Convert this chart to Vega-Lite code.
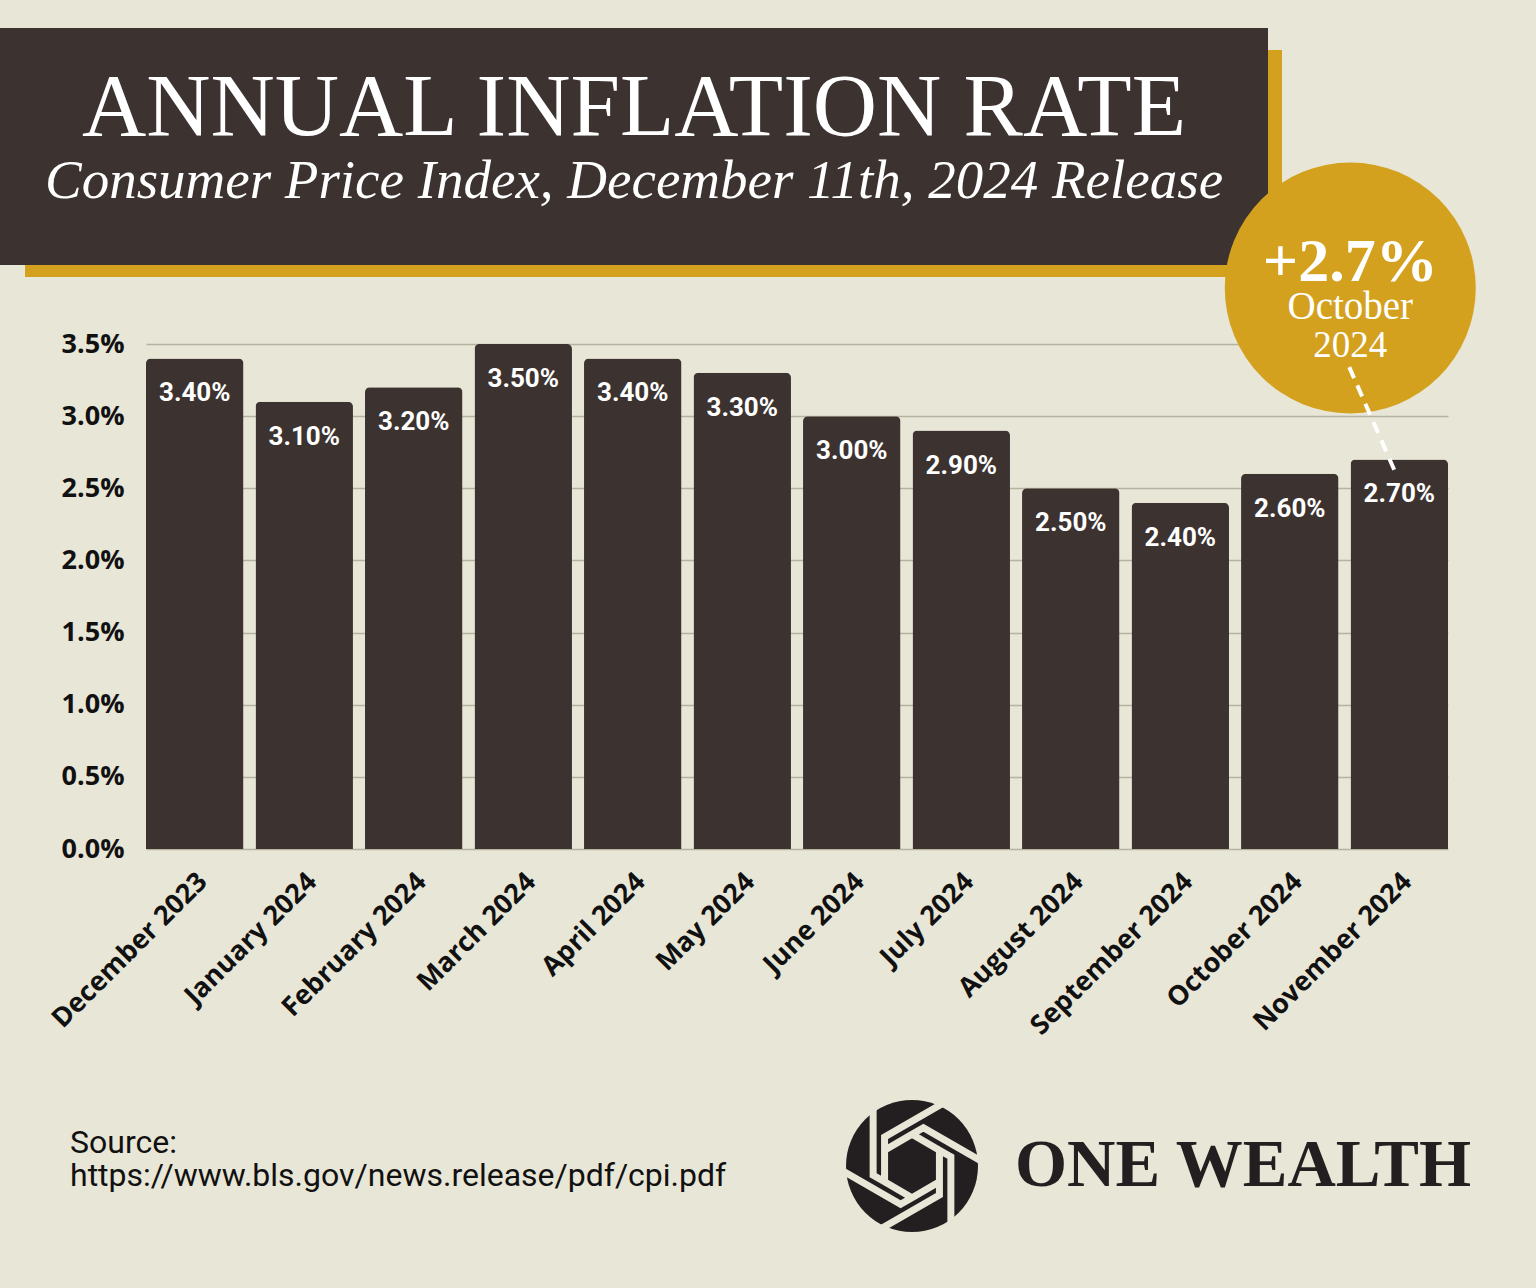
{
  "$schema": "https://vega.github.io/schema/vega-lite/v6.json",
  "width": 1302,
  "height": 505,
  "autosize": {"type": "none"},
  "padding": {"left": 146, "top": 344, "right": 88, "bottom": 439},
  "background": "#e8e6d6",
  "config": {"view": {"stroke": null}},
  "datasets": {
    "cpi": [
      {"month": "December 2023", "rate": 0.034},
      {"month": "January 2024", "rate": 0.031},
      {"month": "February 2024", "rate": 0.032},
      {"month": "March 2024", "rate": 0.035},
      {"month": "April 2024", "rate": 0.034},
      {"month": "May 2024", "rate": 0.033},
      {"month": "June 2024", "rate": 0.030},
      {"month": "July 2024", "rate": 0.029},
      {"month": "August 2024", "rate": 0.025},
      {"month": "September 2024", "rate": 0.024},
      {"month": "October 2024", "rate": 0.026},
      {"month": "November 2024", "rate": 0.027}
    ]
  },
  "layer": [
    {
      "description": "gold shadow behind the header banner",
      "data": {"values": [{}]},
      "mark": {"type": "rect", "color": "#d4a11f"},
      "encoding": {
        "x": {"value": -121}, "x2": {"value": 1136},
        "y": {"value": -294}, "y2": {"value": -67}
      }
    },
    {
      "description": "header banner",
      "data": {"values": [{}]},
      "mark": {"type": "rect", "color": "#3c3331"},
      "encoding": {
        "x": {"value": -146}, "x2": {"value": 1122},
        "y": {"value": -316}, "y2": {"value": -79}
      }
    },
    {
      "data": {"values": [{"line": "ANNUAL INFLATION RATE"}]},
      "mark": {"type": "text", "font": "Liberation Serif", "fontSize": 89, "color": "white", "align": "center", "baseline": "alphabetic"},
      "encoding": {"x": {"value": 488}, "y": {"value": -209}, "text": {"field": "line"}}
    },
    {
      "data": {"values": [{"line": "Consumer Price Index, December 11th, 2024 Release"}]},
      "mark": {"type": "text", "font": "Liberation Serif", "fontStyle": "italic", "fontSize": 55, "color": "white", "align": "center", "baseline": "alphabetic"},
      "encoding": {"x": {"value": 488}, "y": {"value": -146}, "text": {"field": "line"}}
    },
    {
      "data": {"name": "cpi"},
      "mark": {"type": "bar", "color": "#3c3331", "cornerRadiusTopLeft": 5, "cornerRadiusTopRight": 5},
      "encoding": {
        "x": {
          "field": "month", "type": "nominal",
          "scale": {
            "domain": ["December 2023", "January 2024", "February 2024", "March 2024", "April 2024", "May 2024", "June 2024", "July 2024", "August 2024", "September 2024", "October 2024", "November 2024"],
            "paddingInner": 0.11, "paddingOuter": 0
          },
          "axis": {
            "title": null, "labelAngle": -45, "labelAlign": "right", "labelBaseline": "top",
            "labelPadding": 19, "labelOffset": -1, "labelLimit": 0,
            "labelFont": "Open Sans", "labelFontWeight": "bold", "labelFontSize": 27, "labelColor": "#111111",
            "ticks": false, "domain": false, "grid": false
          }
        },
        "y": {
          "field": "rate", "type": "quantitative",
          "scale": {"domain": [0, 0.035], "nice": false, "zero": true},
          "axis": {
            "title": null, "values": [0, 0.005, 0.01, 0.015, 0.02, 0.025, 0.03, 0.035], "format": ".1%",
            "labelFont": "Open Sans", "labelFontWeight": "bold", "labelFontSize": 27, "labelColor": "#111111",
            "labelPadding": 22, "ticks": false, "domain": false,
            "grid": true, "gridColor": "#b5b2a0", "gridWidth": 1.5
          }
        }
      }
    },
    {
      "data": {"name": "cpi"},
      "mark": {"type": "text", "font": "Roboto", "fontWeight": "bold", "fontSize": 26, "color": "white", "baseline": "middle", "align": "center", "dy": 35},
      "encoding": {
        "x": {"field": "month", "type": "nominal"},
        "y": {"field": "rate", "type": "quantitative"},
        "text": {"field": "rate", "format": ".2%"}
      }
    },
    {
      "description": "callout bubble",
      "data": {"values": [{}]},
      "mark": {"type": "point", "shape": "circle", "filled": true, "color": "#d4a11f", "opacity": 1, "size": 63000, "xOffset": -49},
      "encoding": {"x": {"datum": "November 2024"}, "y": {"datum": 0.03888}}
    },
    {
      "description": "dashed leader from the bubble to the latest bar",
      "data": {"values": [{}]},
      "mark": {"type": "rule", "color": "white", "strokeWidth": 4, "strokeDash": [12, 8], "xOffset": -50, "x2Offset": -2},
      "encoding": {
        "x": {"datum": "November 2024"}, "x2": {"datum": "November 2024"},
        "y": {"datum": 0.0334}, "y2": {"datum": 0.0258}
      }
    },
    {
      "data": {"values": [{"line": "+2.7%"}]},
      "mark": {"type": "text", "font": "Liberation Serif", "fontWeight": "bold", "fontSize": 62, "color": "white", "align": "center", "baseline": "alphabetic", "dx": -49},
      "encoding": {"x": {"datum": "November 2024"}, "y": {"datum": 0.03935}, "text": {"field": "line"}}
    },
    {
      "data": {"values": [{"line": "October"}]},
      "mark": {"type": "text", "font": "Liberation Serif", "fontSize": 39, "color": "white", "align": "center", "baseline": "alphabetic", "dx": -49},
      "encoding": {"x": {"datum": "November 2024"}, "y": {"datum": 0.0367}, "text": {"field": "line"}}
    },
    {
      "data": {"values": [{"line": "2024"}]},
      "mark": {"type": "text", "font": "Liberation Serif", "fontSize": 37, "color": "white", "align": "center", "baseline": "alphabetic", "dx": -49},
      "encoding": {"x": {"datum": "November 2024"}, "y": {"datum": 0.0341}, "text": {"field": "line"}}
    },
    {
      "data": {"values": [{"lines": ["Source:", "https://www.bls.gov/news.release/pdf/cpi.pdf"]}]},
      "mark": {"type": "text", "font": "Roboto", "fontSize": 32, "color": "#111111", "align": "left", "baseline": "alphabetic", "lineHeight": 33},
      "encoding": {"x": {"value": -76}, "y": {"value": 809}, "text": {"field": "lines"}}
    },
    {
      "description": "logo disc",
      "data": {"values": [{}]},
      "mark": {"type": "point", "shape": "circle", "filled": true, "color": "#231f20", "opacity": 1, "size": 17424},
      "encoding": {"x": {"value": 766}, "y": {"value": 822}}
    },
    {
      "description": "aperture cuts across the logo disc: hexagon edges that hook outward to the rim",
      "data": {"values": [{}]},
      "mark": {
        "type": "point", "filled": false, "stroke": "#e8e6d6", "strokeWidth": 7, "opacity": 1, "size": 17424,
        "shape": "M0,-0.48L0.4157,-0.24L0.5889,-0.14L0.5889,0.869M0.4157,-0.24L0.4157,0.24L0.4157,0.44L-0.4581,0.9445M0.4157,0.24L0,0.48L-0.1732,0.58L-1.047,0.0756M0,0.48L-0.4157,0.24L-0.5889,0.14L-0.5889,-0.869M-0.4157,0.24L-0.4157,-0.24L-0.4157,-0.44L0.4581,-0.9445M-0.4157,-0.24L0,-0.48L0.1732,-0.58L1.047,-0.0756"
      },
      "encoding": {"x": {"value": 766}, "y": {"value": 822}}
    },
    {
      "data": {"values": [{"line": "ONE WEALTH"}]},
      "mark": {"type": "text", "font": "Liberation Serif", "fontWeight": "bold", "fontSize": 67, "color": "#231f20", "align": "left", "baseline": "alphabetic"},
      "encoding": {"x": {"value": 869}, "y": {"value": 842}, "text": {"field": "line"}}
    }
  ]
}
